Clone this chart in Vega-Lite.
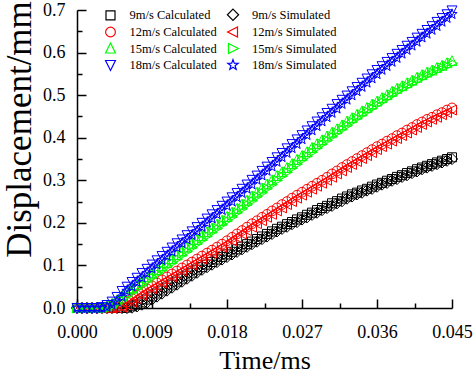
{
"$schema": "https://vega.github.io/schema/vega-lite/v6.json",
"width": 375, "height": 298,
"autosize": {"type": "none"},
"padding": {"left": 77, "top": 10, "right": 22, "bottom": 67},
"background": "white",
"config": {"view": {"stroke": null}, "font": "Liberation Serif"},
"data": {"values": [
{"s":"9C","t":0,"v":0},{"s":"9C","t":0.0006,"v":0},{"s":"9C","t":0.0012,"v":0},{"s":"9C","t":0.0018,"v":0},{"s":"9C","t":0.0024,"v":0},{"s":"9C","t":0.003,"v":0},{"s":"9C","t":0.0036,"v":0},{"s":"9C","t":0.0042,"v":0},{"s":"9C","t":0.0048,"v":0},{"s":"9C","t":0.0054,"v":0},{"s":"9C","t":0.006,"v":0.001},{"s":"9C","t":0.0066,"v":0.004},{"s":"9C","t":0.0072,"v":0.008},{"s":"9C","t":0.0078,"v":0.013},{"s":"9C","t":0.0084,"v":0.020},{"s":"9C","t":0.009,"v":0.027},{"s":"9C","t":0.0096,"v":0.034},{"s":"9C","t":0.0102,"v":0.041},{"s":"9C","t":0.0108,"v":0.048},{"s":"9C","t":0.0114,"v":0.055},{"s":"9C","t":0.012,"v":0.062},{"s":"9C","t":0.0126,"v":0.069},{"s":"9C","t":0.0132,"v":0.076},{"s":"9C","t":0.0138,"v":0.083},{"s":"9C","t":0.0144,"v":0.090},{"s":"9C","t":0.015,"v":0.096},{"s":"9C","t":0.0156,"v":0.102},{"s":"9C","t":0.0162,"v":0.108},{"s":"9C","t":0.0168,"v":0.114},{"s":"9C","t":0.0174,"v":0.120},{"s":"9C","t":0.018,"v":0.126},{"s":"9C","t":0.0186,"v":0.132},{"s":"9C","t":0.0192,"v":0.138},{"s":"9C","t":0.0198,"v":0.144},{"s":"9C","t":0.0204,"v":0.150},{"s":"9C","t":0.021,"v":0.156},{"s":"9C","t":0.0216,"v":0.162},{"s":"9C","t":0.0222,"v":0.168},{"s":"9C","t":0.0228,"v":0.174},{"s":"9C","t":0.0234,"v":0.180},{"s":"9C","t":0.024,"v":0.186},{"s":"9C","t":0.0246,"v":0.191},{"s":"9C","t":0.0252,"v":0.197},{"s":"9C","t":0.0258,"v":0.202},{"s":"9C","t":0.0264,"v":0.208},{"s":"9C","t":0.027,"v":0.213},{"s":"9C","t":0.0276,"v":0.219},{"s":"9C","t":0.0282,"v":0.224},{"s":"9C","t":0.0288,"v":0.230},{"s":"9C","t":0.0294,"v":0.235},{"s":"9C","t":0.03,"v":0.240},{"s":"9C","t":0.0306,"v":0.246},{"s":"9C","t":0.0312,"v":0.251},{"s":"9C","t":0.0318,"v":0.257},{"s":"9C","t":0.0324,"v":0.262},{"s":"9C","t":0.033,"v":0.267},{"s":"9C","t":0.0336,"v":0.271},{"s":"9C","t":0.0342,"v":0.276},{"s":"9C","t":0.0348,"v":0.280},{"s":"9C","t":0.0354,"v":0.285},{"s":"9C","t":0.036,"v":0.290},{"s":"9C","t":0.0366,"v":0.294},{"s":"9C","t":0.0372,"v":0.299},{"s":"9C","t":0.0378,"v":0.303},{"s":"9C","t":0.0384,"v":0.308},{"s":"9C","t":0.039,"v":0.312},{"s":"9C","t":0.0396,"v":0.317},{"s":"9C","t":0.0402,"v":0.321},{"s":"9C","t":0.0408,"v":0.326},{"s":"9C","t":0.0414,"v":0.330},{"s":"9C","t":0.042,"v":0.334},{"s":"9C","t":0.0426,"v":0.338},{"s":"9C","t":0.0432,"v":0.342},{"s":"9C","t":0.0438,"v":0.346},{"s":"9C","t":0.0444,"v":0.350},{"s":"9C","t":0.045,"v":0.354},
{"s":"9S","t":0,"v":0},{"s":"9S","t":0.0006,"v":0},{"s":"9S","t":0.0012,"v":0},{"s":"9S","t":0.0018,"v":0},{"s":"9S","t":0.0024,"v":0},{"s":"9S","t":0.003,"v":0},{"s":"9S","t":0.0036,"v":0},{"s":"9S","t":0.0042,"v":0},{"s":"9S","t":0.0048,"v":0},{"s":"9S","t":0.0054,"v":0},{"s":"9S","t":0.006,"v":0},{"s":"9S","t":0.0066,"v":0.001},{"s":"9S","t":0.0072,"v":0.004},{"s":"9S","t":0.0078,"v":0.008},{"s":"9S","t":0.0084,"v":0.013},{"s":"9S","t":0.009,"v":0.020},{"s":"9S","t":0.0096,"v":0.027},{"s":"9S","t":0.0102,"v":0.034},{"s":"9S","t":0.0108,"v":0.041},{"s":"9S","t":0.0114,"v":0.048},{"s":"9S","t":0.012,"v":0.055},{"s":"9S","t":0.0126,"v":0.062},{"s":"9S","t":0.0132,"v":0.069},{"s":"9S","t":0.0138,"v":0.076},{"s":"9S","t":0.0144,"v":0.083},{"s":"9S","t":0.015,"v":0.090},{"s":"9S","t":0.0156,"v":0.096},{"s":"9S","t":0.0162,"v":0.102},{"s":"9S","t":0.0168,"v":0.108},{"s":"9S","t":0.0174,"v":0.114},{"s":"9S","t":0.018,"v":0.120},{"s":"9S","t":0.0186,"v":0.126},{"s":"9S","t":0.0192,"v":0.132},{"s":"9S","t":0.0198,"v":0.138},{"s":"9S","t":0.0204,"v":0.144},{"s":"9S","t":0.021,"v":0.150},{"s":"9S","t":0.0216,"v":0.156},{"s":"9S","t":0.0222,"v":0.162},{"s":"9S","t":0.0228,"v":0.168},{"s":"9S","t":0.0234,"v":0.174},{"s":"9S","t":0.024,"v":0.180},{"s":"9S","t":0.0246,"v":0.186},{"s":"9S","t":0.0252,"v":0.191},{"s":"9S","t":0.0258,"v":0.197},{"s":"9S","t":0.0264,"v":0.202},{"s":"9S","t":0.027,"v":0.208},{"s":"9S","t":0.0276,"v":0.213},{"s":"9S","t":0.0282,"v":0.219},{"s":"9S","t":0.0288,"v":0.224},{"s":"9S","t":0.0294,"v":0.230},{"s":"9S","t":0.03,"v":0.235},{"s":"9S","t":0.0306,"v":0.240},{"s":"9S","t":0.0312,"v":0.246},{"s":"9S","t":0.0318,"v":0.251},{"s":"9S","t":0.0324,"v":0.257},{"s":"9S","t":0.033,"v":0.262},{"s":"9S","t":0.0336,"v":0.267},{"s":"9S","t":0.0342,"v":0.271},{"s":"9S","t":0.0348,"v":0.276},{"s":"9S","t":0.0354,"v":0.280},{"s":"9S","t":0.036,"v":0.285},{"s":"9S","t":0.0366,"v":0.290},{"s":"9S","t":0.0372,"v":0.294},{"s":"9S","t":0.0378,"v":0.299},{"s":"9S","t":0.0384,"v":0.303},{"s":"9S","t":0.039,"v":0.308},{"s":"9S","t":0.0396,"v":0.312},{"s":"9S","t":0.0402,"v":0.317},{"s":"9S","t":0.0408,"v":0.321},{"s":"9S","t":0.0414,"v":0.326},{"s":"9S","t":0.042,"v":0.330},{"s":"9S","t":0.0426,"v":0.334},{"s":"9S","t":0.0432,"v":0.338},{"s":"9S","t":0.0438,"v":0.342},{"s":"9S","t":0.0444,"v":0.346},{"s":"9S","t":0.045,"v":0.350},
{"s":"12C","t":0,"v":0},{"s":"12C","t":0.0006,"v":0},{"s":"12C","t":0.0012,"v":0},{"s":"12C","t":0.0018,"v":0},{"s":"12C","t":0.0024,"v":0},{"s":"12C","t":0.003,"v":0},{"s":"12C","t":0.0036,"v":0},{"s":"12C","t":0.0042,"v":0},{"s":"12C","t":0.0048,"v":0.002},{"s":"12C","t":0.0054,"v":0.007},{"s":"12C","t":0.006,"v":0.014},{"s":"12C","t":0.0066,"v":0.022},{"s":"12C","t":0.0072,"v":0.030},{"s":"12C","t":0.0078,"v":0.038},{"s":"12C","t":0.0084,"v":0.045},{"s":"12C","t":0.009,"v":0.052},{"s":"12C","t":0.0096,"v":0.059},{"s":"12C","t":0.0102,"v":0.066},{"s":"12C","t":0.0108,"v":0.073},{"s":"12C","t":0.0114,"v":0.080},{"s":"12C","t":0.012,"v":0.087},{"s":"12C","t":0.0126,"v":0.094},{"s":"12C","t":0.0132,"v":0.101},{"s":"12C","t":0.0138,"v":0.108},{"s":"12C","t":0.0144,"v":0.115},{"s":"12C","t":0.015,"v":0.122},{"s":"12C","t":0.0156,"v":0.129},{"s":"12C","t":0.0162,"v":0.136},{"s":"12C","t":0.0168,"v":0.143},{"s":"12C","t":0.0174,"v":0.150},{"s":"12C","t":0.018,"v":0.158},{"s":"12C","t":0.0186,"v":0.166},{"s":"12C","t":0.0192,"v":0.174},{"s":"12C","t":0.0198,"v":0.182},{"s":"12C","t":0.0204,"v":0.190},{"s":"12C","t":0.021,"v":0.198},{"s":"12C","t":0.0216,"v":0.205},{"s":"12C","t":0.0222,"v":0.213},{"s":"12C","t":0.0228,"v":0.220},{"s":"12C","t":0.0234,"v":0.228},{"s":"12C","t":0.024,"v":0.235},{"s":"12C","t":0.0246,"v":0.243},{"s":"12C","t":0.0252,"v":0.250},{"s":"12C","t":0.0258,"v":0.258},{"s":"12C","t":0.0264,"v":0.265},{"s":"12C","t":0.027,"v":0.272},{"s":"12C","t":0.0276,"v":0.279},{"s":"12C","t":0.0282,"v":0.286},{"s":"12C","t":0.0288,"v":0.293},{"s":"12C","t":0.0294,"v":0.300},{"s":"12C","t":0.03,"v":0.307},{"s":"12C","t":0.0306,"v":0.315},{"s":"12C","t":0.0312,"v":0.322},{"s":"12C","t":0.0318,"v":0.330},{"s":"12C","t":0.0324,"v":0.337},{"s":"12C","t":0.033,"v":0.344},{"s":"12C","t":0.0336,"v":0.351},{"s":"12C","t":0.0342,"v":0.358},{"s":"12C","t":0.0348,"v":0.365},{"s":"12C","t":0.0354,"v":0.372},{"s":"12C","t":0.036,"v":0.379},{"s":"12C","t":0.0366,"v":0.385},{"s":"12C","t":0.0372,"v":0.392},{"s":"12C","t":0.0378,"v":0.398},{"s":"12C","t":0.0384,"v":0.405},{"s":"12C","t":0.039,"v":0.411},{"s":"12C","t":0.0396,"v":0.418},{"s":"12C","t":0.0402,"v":0.424},{"s":"12C","t":0.0408,"v":0.431},{"s":"12C","t":0.0414,"v":0.437},{"s":"12C","t":0.042,"v":0.443},{"s":"12C","t":0.0426,"v":0.448},{"s":"12C","t":0.0432,"v":0.454},{"s":"12C","t":0.0438,"v":0.459},{"s":"12C","t":0.0444,"v":0.465},{"s":"12C","t":0.045,"v":0.470},
{"s":"12S","t":0,"v":0},{"s":"12S","t":0.0006,"v":0},{"s":"12S","t":0.0012,"v":0},{"s":"12S","t":0.0018,"v":0},{"s":"12S","t":0.0024,"v":0},{"s":"12S","t":0.003,"v":0},{"s":"12S","t":0.0036,"v":0},{"s":"12S","t":0.0042,"v":0},{"s":"12S","t":0.0048,"v":0},{"s":"12S","t":0.0054,"v":0.002},{"s":"12S","t":0.006,"v":0.007},{"s":"12S","t":0.0066,"v":0.014},{"s":"12S","t":0.0072,"v":0.022},{"s":"12S","t":0.0078,"v":0.030},{"s":"12S","t":0.0084,"v":0.038},{"s":"12S","t":0.009,"v":0.045},{"s":"12S","t":0.0096,"v":0.052},{"s":"12S","t":0.0102,"v":0.059},{"s":"12S","t":0.0108,"v":0.066},{"s":"12S","t":0.0114,"v":0.073},{"s":"12S","t":0.012,"v":0.080},{"s":"12S","t":0.0126,"v":0.087},{"s":"12S","t":0.0132,"v":0.094},{"s":"12S","t":0.0138,"v":0.101},{"s":"12S","t":0.0144,"v":0.108},{"s":"12S","t":0.015,"v":0.115},{"s":"12S","t":0.0156,"v":0.122},{"s":"12S","t":0.0162,"v":0.129},{"s":"12S","t":0.0168,"v":0.136},{"s":"12S","t":0.0174,"v":0.143},{"s":"12S","t":0.018,"v":0.150},{"s":"12S","t":0.0186,"v":0.158},{"s":"12S","t":0.0192,"v":0.166},{"s":"12S","t":0.0198,"v":0.174},{"s":"12S","t":0.0204,"v":0.182},{"s":"12S","t":0.021,"v":0.190},{"s":"12S","t":0.0216,"v":0.198},{"s":"12S","t":0.0222,"v":0.205},{"s":"12S","t":0.0228,"v":0.213},{"s":"12S","t":0.0234,"v":0.220},{"s":"12S","t":0.024,"v":0.228},{"s":"12S","t":0.0246,"v":0.235},{"s":"12S","t":0.0252,"v":0.243},{"s":"12S","t":0.0258,"v":0.250},{"s":"12S","t":0.0264,"v":0.258},{"s":"12S","t":0.027,"v":0.265},{"s":"12S","t":0.0276,"v":0.272},{"s":"12S","t":0.0282,"v":0.279},{"s":"12S","t":0.0288,"v":0.286},{"s":"12S","t":0.0294,"v":0.293},{"s":"12S","t":0.03,"v":0.300},{"s":"12S","t":0.0306,"v":0.307},{"s":"12S","t":0.0312,"v":0.315},{"s":"12S","t":0.0318,"v":0.322},{"s":"12S","t":0.0324,"v":0.330},{"s":"12S","t":0.033,"v":0.337},{"s":"12S","t":0.0336,"v":0.344},{"s":"12S","t":0.0342,"v":0.351},{"s":"12S","t":0.0348,"v":0.358},{"s":"12S","t":0.0354,"v":0.365},{"s":"12S","t":0.036,"v":0.372},{"s":"12S","t":0.0366,"v":0.379},{"s":"12S","t":0.0372,"v":0.385},{"s":"12S","t":0.0378,"v":0.392},{"s":"12S","t":0.0384,"v":0.398},{"s":"12S","t":0.039,"v":0.405},{"s":"12S","t":0.0396,"v":0.411},{"s":"12S","t":0.0402,"v":0.418},{"s":"12S","t":0.0408,"v":0.424},{"s":"12S","t":0.0414,"v":0.431},{"s":"12S","t":0.042,"v":0.437},{"s":"12S","t":0.0426,"v":0.443},{"s":"12S","t":0.0432,"v":0.448},{"s":"12S","t":0.0438,"v":0.454},{"s":"12S","t":0.0444,"v":0.459},{"s":"12S","t":0.045,"v":0.465},
{"s":"15C","t":0,"v":0},{"s":"15C","t":0.0006,"v":0},{"s":"15C","t":0.0012,"v":0},{"s":"15C","t":0.0018,"v":0},{"s":"15C","t":0.0024,"v":0},{"s":"15C","t":0.003,"v":0.001},{"s":"15C","t":0.0036,"v":0.004},{"s":"15C","t":0.0042,"v":0.010},{"s":"15C","t":0.0048,"v":0.018},{"s":"15C","t":0.0054,"v":0.028},{"s":"15C","t":0.006,"v":0.037},{"s":"15C","t":0.0066,"v":0.046},{"s":"15C","t":0.0072,"v":0.054},{"s":"15C","t":0.0078,"v":0.063},{"s":"15C","t":0.0084,"v":0.072},{"s":"15C","t":0.009,"v":0.081},{"s":"15C","t":0.0096,"v":0.089},{"s":"15C","t":0.0102,"v":0.098},{"s":"15C","t":0.0108,"v":0.106},{"s":"15C","t":0.0114,"v":0.115},{"s":"15C","t":0.012,"v":0.124},{"s":"15C","t":0.0126,"v":0.133},{"s":"15C","t":0.0132,"v":0.142},{"s":"15C","t":0.0138,"v":0.151},{"s":"15C","t":0.0144,"v":0.160},{"s":"15C","t":0.015,"v":0.169},{"s":"15C","t":0.0156,"v":0.178},{"s":"15C","t":0.0162,"v":0.187},{"s":"15C","t":0.0168,"v":0.196},{"s":"15C","t":0.0174,"v":0.205},{"s":"15C","t":0.018,"v":0.214},{"s":"15C","t":0.0186,"v":0.224},{"s":"15C","t":0.0192,"v":0.233},{"s":"15C","t":0.0198,"v":0.243},{"s":"15C","t":0.0204,"v":0.252},{"s":"15C","t":0.021,"v":0.262},{"s":"15C","t":0.0216,"v":0.271},{"s":"15C","t":0.0222,"v":0.281},{"s":"15C","t":0.0228,"v":0.290},{"s":"15C","t":0.0234,"v":0.300},{"s":"15C","t":0.024,"v":0.310},{"s":"15C","t":0.0246,"v":0.319},{"s":"15C","t":0.0252,"v":0.329},{"s":"15C","t":0.0258,"v":0.338},{"s":"15C","t":0.0264,"v":0.348},{"s":"15C","t":0.027,"v":0.357},{"s":"15C","t":0.0276,"v":0.366},{"s":"15C","t":0.0282,"v":0.376},{"s":"15C","t":0.0288,"v":0.385},{"s":"15C","t":0.0294,"v":0.394},{"s":"15C","t":0.03,"v":0.403},{"s":"15C","t":0.0306,"v":0.412},{"s":"15C","t":0.0312,"v":0.420},{"s":"15C","t":0.0318,"v":0.429},{"s":"15C","t":0.0324,"v":0.438},{"s":"15C","t":0.033,"v":0.446},{"s":"15C","t":0.0336,"v":0.454},{"s":"15C","t":0.0342,"v":0.462},{"s":"15C","t":0.0348,"v":0.470},{"s":"15C","t":0.0354,"v":0.478},{"s":"15C","t":0.036,"v":0.485},{"s":"15C","t":0.0366,"v":0.493},{"s":"15C","t":0.0372,"v":0.500},{"s":"15C","t":0.0378,"v":0.508},{"s":"15C","t":0.0384,"v":0.515},{"s":"15C","t":0.039,"v":0.521},{"s":"15C","t":0.0396,"v":0.528},{"s":"15C","t":0.0402,"v":0.534},{"s":"15C","t":0.0408,"v":0.541},{"s":"15C","t":0.0414,"v":0.547},{"s":"15C","t":0.042,"v":0.553},{"s":"15C","t":0.0426,"v":0.558},{"s":"15C","t":0.0432,"v":0.564},{"s":"15C","t":0.0438,"v":0.569},{"s":"15C","t":0.0444,"v":0.575},{"s":"15C","t":0.045,"v":0.580},
{"s":"15S","t":0,"v":0},{"s":"15S","t":0.0006,"v":0},{"s":"15S","t":0.0012,"v":0},{"s":"15S","t":0.0018,"v":0},{"s":"15S","t":0.0024,"v":0},{"s":"15S","t":0.003,"v":0},{"s":"15S","t":0.0036,"v":0.001},{"s":"15S","t":0.0042,"v":0.004},{"s":"15S","t":0.0048,"v":0.010},{"s":"15S","t":0.0054,"v":0.018},{"s":"15S","t":0.006,"v":0.028},{"s":"15S","t":0.0066,"v":0.037},{"s":"15S","t":0.0072,"v":0.046},{"s":"15S","t":0.0078,"v":0.054},{"s":"15S","t":0.0084,"v":0.063},{"s":"15S","t":0.009,"v":0.072},{"s":"15S","t":0.0096,"v":0.081},{"s":"15S","t":0.0102,"v":0.089},{"s":"15S","t":0.0108,"v":0.098},{"s":"15S","t":0.0114,"v":0.106},{"s":"15S","t":0.012,"v":0.115},{"s":"15S","t":0.0126,"v":0.124},{"s":"15S","t":0.0132,"v":0.133},{"s":"15S","t":0.0138,"v":0.142},{"s":"15S","t":0.0144,"v":0.151},{"s":"15S","t":0.015,"v":0.160},{"s":"15S","t":0.0156,"v":0.169},{"s":"15S","t":0.0162,"v":0.178},{"s":"15S","t":0.0168,"v":0.187},{"s":"15S","t":0.0174,"v":0.196},{"s":"15S","t":0.018,"v":0.205},{"s":"15S","t":0.0186,"v":0.214},{"s":"15S","t":0.0192,"v":0.224},{"s":"15S","t":0.0198,"v":0.233},{"s":"15S","t":0.0204,"v":0.243},{"s":"15S","t":0.021,"v":0.252},{"s":"15S","t":0.0216,"v":0.262},{"s":"15S","t":0.0222,"v":0.271},{"s":"15S","t":0.0228,"v":0.281},{"s":"15S","t":0.0234,"v":0.290},{"s":"15S","t":0.024,"v":0.300},{"s":"15S","t":0.0246,"v":0.310},{"s":"15S","t":0.0252,"v":0.319},{"s":"15S","t":0.0258,"v":0.329},{"s":"15S","t":0.0264,"v":0.338},{"s":"15S","t":0.027,"v":0.348},{"s":"15S","t":0.0276,"v":0.357},{"s":"15S","t":0.0282,"v":0.366},{"s":"15S","t":0.0288,"v":0.376},{"s":"15S","t":0.0294,"v":0.385},{"s":"15S","t":0.03,"v":0.394},{"s":"15S","t":0.0306,"v":0.403},{"s":"15S","t":0.0312,"v":0.412},{"s":"15S","t":0.0318,"v":0.420},{"s":"15S","t":0.0324,"v":0.429},{"s":"15S","t":0.033,"v":0.438},{"s":"15S","t":0.0336,"v":0.446},{"s":"15S","t":0.0342,"v":0.454},{"s":"15S","t":0.0348,"v":0.462},{"s":"15S","t":0.0354,"v":0.470},{"s":"15S","t":0.036,"v":0.478},{"s":"15S","t":0.0366,"v":0.485},{"s":"15S","t":0.0372,"v":0.493},{"s":"15S","t":0.0378,"v":0.500},{"s":"15S","t":0.0384,"v":0.508},{"s":"15S","t":0.039,"v":0.515},{"s":"15S","t":0.0396,"v":0.521},{"s":"15S","t":0.0402,"v":0.528},{"s":"15S","t":0.0408,"v":0.534},{"s":"15S","t":0.0414,"v":0.541},{"s":"15S","t":0.042,"v":0.547},{"s":"15S","t":0.0426,"v":0.553},{"s":"15S","t":0.0432,"v":0.558},{"s":"15S","t":0.0438,"v":0.564},{"s":"15S","t":0.0444,"v":0.569},{"s":"15S","t":0.045,"v":0.575},
{"s":"18C","t":0,"v":0},{"s":"18C","t":0.0006,"v":0},{"s":"18C","t":0.0012,"v":0},{"s":"18C","t":0.0018,"v":0},{"s":"18C","t":0.0024,"v":0},{"s":"18C","t":0.003,"v":0.002},{"s":"18C","t":0.0036,"v":0.007},{"s":"18C","t":0.0042,"v":0.015},{"s":"18C","t":0.0048,"v":0.026},{"s":"18C","t":0.0054,"v":0.040},{"s":"18C","t":0.006,"v":0.050},{"s":"18C","t":0.0066,"v":0.061},{"s":"18C","t":0.0072,"v":0.071},{"s":"18C","t":0.0078,"v":0.082},{"s":"18C","t":0.0084,"v":0.092},{"s":"18C","t":0.009,"v":0.102},{"s":"18C","t":0.0096,"v":0.112},{"s":"18C","t":0.0102,"v":0.122},{"s":"18C","t":0.0108,"v":0.132},{"s":"18C","t":0.0114,"v":0.142},{"s":"18C","t":0.012,"v":0.152},{"s":"18C","t":0.0126,"v":0.161},{"s":"18C","t":0.0132,"v":0.171},{"s":"18C","t":0.0138,"v":0.180},{"s":"18C","t":0.0144,"v":0.190},{"s":"18C","t":0.015,"v":0.200},{"s":"18C","t":0.0156,"v":0.210},{"s":"18C","t":0.0162,"v":0.220},{"s":"18C","t":0.0168,"v":0.230},{"s":"18C","t":0.0174,"v":0.240},{"s":"18C","t":0.018,"v":0.250},{"s":"18C","t":0.0186,"v":0.260},{"s":"18C","t":0.0192,"v":0.270},{"s":"18C","t":0.0198,"v":0.280},{"s":"18C","t":0.0204,"v":0.290},{"s":"18C","t":0.021,"v":0.301},{"s":"18C","t":0.0216,"v":0.311},{"s":"18C","t":0.0222,"v":0.322},{"s":"18C","t":0.0228,"v":0.332},{"s":"18C","t":0.0234,"v":0.343},{"s":"18C","t":0.024,"v":0.354},{"s":"18C","t":0.0246,"v":0.364},{"s":"18C","t":0.0252,"v":0.375},{"s":"18C","t":0.0258,"v":0.385},{"s":"18C","t":0.0264,"v":0.396},{"s":"18C","t":0.027,"v":0.406},{"s":"18C","t":0.0276,"v":0.417},{"s":"18C","t":0.0282,"v":0.427},{"s":"18C","t":0.0288,"v":0.438},{"s":"18C","t":0.0294,"v":0.448},{"s":"18C","t":0.03,"v":0.458},{"s":"18C","t":0.0306,"v":0.468},{"s":"18C","t":0.0312,"v":0.479},{"s":"18C","t":0.0318,"v":0.489},{"s":"18C","t":0.0324,"v":0.499},{"s":"18C","t":0.033,"v":0.509},{"s":"18C","t":0.0336,"v":0.519},{"s":"18C","t":0.0342,"v":0.529},{"s":"18C","t":0.0348,"v":0.539},{"s":"18C","t":0.0354,"v":0.549},{"s":"18C","t":0.036,"v":0.559},{"s":"18C","t":0.0366,"v":0.568},{"s":"18C","t":0.0372,"v":0.578},{"s":"18C","t":0.0378,"v":0.587},{"s":"18C","t":0.0384,"v":0.597},{"s":"18C","t":0.039,"v":0.606},{"s":"18C","t":0.0396,"v":0.616},{"s":"18C","t":0.0402,"v":0.625},{"s":"18C","t":0.0408,"v":0.635},{"s":"18C","t":0.0414,"v":0.644},{"s":"18C","t":0.042,"v":0.653},{"s":"18C","t":0.0426,"v":0.662},{"s":"18C","t":0.0432,"v":0.672},{"s":"18C","t":0.0438,"v":0.681},{"s":"18C","t":0.0444,"v":0.690},{"s":"18C","t":0.045,"v":0.699},
{"s":"18S","t":0,"v":0},{"s":"18S","t":0.0006,"v":0},{"s":"18S","t":0.0012,"v":0},{"s":"18S","t":0.0018,"v":0},{"s":"18S","t":0.0024,"v":0},{"s":"18S","t":0.003,"v":0},{"s":"18S","t":0.0036,"v":0.002},{"s":"18S","t":0.0042,"v":0.007},{"s":"18S","t":0.0048,"v":0.015},{"s":"18S","t":0.0054,"v":0.026},{"s":"18S","t":0.006,"v":0.040},{"s":"18S","t":0.0066,"v":0.050},{"s":"18S","t":0.0072,"v":0.061},{"s":"18S","t":0.0078,"v":0.071},{"s":"18S","t":0.0084,"v":0.082},{"s":"18S","t":0.009,"v":0.092},{"s":"18S","t":0.0096,"v":0.102},{"s":"18S","t":0.0102,"v":0.112},{"s":"18S","t":0.0108,"v":0.122},{"s":"18S","t":0.0114,"v":0.132},{"s":"18S","t":0.012,"v":0.142},{"s":"18S","t":0.0126,"v":0.152},{"s":"18S","t":0.0132,"v":0.161},{"s":"18S","t":0.0138,"v":0.171},{"s":"18S","t":0.0144,"v":0.180},{"s":"18S","t":0.015,"v":0.190},{"s":"18S","t":0.0156,"v":0.200},{"s":"18S","t":0.0162,"v":0.210},{"s":"18S","t":0.0168,"v":0.220},{"s":"18S","t":0.0174,"v":0.230},{"s":"18S","t":0.018,"v":0.240},{"s":"18S","t":0.0186,"v":0.250},{"s":"18S","t":0.0192,"v":0.260},{"s":"18S","t":0.0198,"v":0.270},{"s":"18S","t":0.0204,"v":0.280},{"s":"18S","t":0.021,"v":0.290},{"s":"18S","t":0.0216,"v":0.301},{"s":"18S","t":0.0222,"v":0.311},{"s":"18S","t":0.0228,"v":0.322},{"s":"18S","t":0.0234,"v":0.332},{"s":"18S","t":0.024,"v":0.343},{"s":"18S","t":0.0246,"v":0.354},{"s":"18S","t":0.0252,"v":0.364},{"s":"18S","t":0.0258,"v":0.375},{"s":"18S","t":0.0264,"v":0.385},{"s":"18S","t":0.027,"v":0.396},{"s":"18S","t":0.0276,"v":0.406},{"s":"18S","t":0.0282,"v":0.417},{"s":"18S","t":0.0288,"v":0.427},{"s":"18S","t":0.0294,"v":0.438},{"s":"18S","t":0.03,"v":0.448},{"s":"18S","t":0.0306,"v":0.458},{"s":"18S","t":0.0312,"v":0.468},{"s":"18S","t":0.0318,"v":0.479},{"s":"18S","t":0.0324,"v":0.489},{"s":"18S","t":0.033,"v":0.499},{"s":"18S","t":0.0336,"v":0.509},{"s":"18S","t":0.0342,"v":0.519},{"s":"18S","t":0.0348,"v":0.529},{"s":"18S","t":0.0354,"v":0.539},{"s":"18S","t":0.036,"v":0.549},{"s":"18S","t":0.0366,"v":0.559},{"s":"18S","t":0.0372,"v":0.568},{"s":"18S","t":0.0378,"v":0.578},{"s":"18S","t":0.0384,"v":0.587},{"s":"18S","t":0.039,"v":0.597},{"s":"18S","t":0.0396,"v":0.606},{"s":"18S","t":0.0402,"v":0.616},{"s":"18S","t":0.0408,"v":0.625},{"s":"18S","t":0.0414,"v":0.635},{"s":"18S","t":0.042,"v":0.644},{"s":"18S","t":0.0426,"v":0.653},{"s":"18S","t":0.0432,"v":0.662},{"s":"18S","t":0.0438,"v":0.672},{"s":"18S","t":0.0444,"v":0.681},{"s":"18S","t":0.045,"v":0.690}
]},
"encoding": {
  "x": {"field": "t", "type": "quantitative",
    "scale": {"domain": [0, 0.045], "nice": false, "zero": false},
    "axis": {"title": "Time/ms", "values": [0,0.0045,0.009,0.0135,0.018,0.0225,0.027,0.0315,0.036,0.0405,0.045],
      "labelExpr": "abs(datum.value/0.009 - round(datum.value/0.009)) < 0.01 ? format(datum.value, '.3f') : ''",
      "labelFont": "Liberation Serif", "labelFontSize": 18, "labelColor": "black", "labelFlush": false, "labelOverlap": false, "labelPadding": 24,
      "tickSize": {"condition": {"test": "abs(datum.value/0.009 - round(datum.value/0.009)) < 0.01", "value": -9}, "value": -5},
      "tickColor": "black", "tickWidth": 1.5, "domainColor": "black", "domainWidth": 1.5, "grid": false,
      "titleFont": "Liberation Serif", "titleFontSize": 26, "titleFontWeight": "normal", "titleColor": "black",
      "titleBaseline": "alphabetic", "titleY": 60}},
  "y": {"field": "v", "type": "quantitative",
    "scale": {"domain": [0, 0.7], "nice": false},
    "axis": {"title": "Displacement/mm", "values": [0,0.05,0.1,0.15,0.2,0.25,0.3,0.35,0.4,0.45,0.5,0.55,0.6,0.65,0.7],
      "labelExpr": "abs(datum.value*10 - round(datum.value*10)) < 0.01 ? format(datum.value, '.1f') : ''",
      "labelFont": "Liberation Serif", "labelFontSize": 18, "labelColor": "black", "labelFlush": false, "labelOverlap": false, "labelPadding": 21,
      "tickSize": {"condition": {"test": "abs(datum.value*10 - round(datum.value*10)) < 0.01", "value": -9}, "value": -5},
      "tickColor": "black", "tickWidth": 1.5, "domainColor": "black", "domainWidth": 1.5, "grid": false,
      "titleFont": "Liberation Serif", "titleFontSize": 35, "titleFontWeight": "normal", "titleColor": "black",
      "titleAlign": "center", "titleBaseline": "middle", "titleX": -58, "titleY": 119}},
  "color": {"field": "s", "type": "nominal",
    "scale": {"domain": ["9C","9S","12C","12S","15C","15S","18C","18S"], "range": ["#000000","#000000","#ff0000","#ff0000","#00ff00","#00ff00","#0000ff","#0000ff"]},
    "legend": {"title": null, "orient": "none", "legendX": 25, "legendY": -4, "columns": 2, "direction": "horizontal", "columnPadding": 7.5, "rowPadding": 0.5, "padding": 0,
      "symbolSize": 225, "symbolStrokeWidth": 1.2, "symbolOpacity": 1, "labelOffset": 10.5,
      "labelFont": "Liberation Serif", "labelFontSize": 12.5, "labelColor": "black", "labelLimit": 0,
      "labelExpr": "replace(replace(datum.label, 'C', 'm/s Calculated'), 'S', 'm/s Simulated')"}}
},
"layer": [
  {"mark": {"type": "line", "strokeWidth": 1}, "encoding": {"detail": {"field": "s"}}},
  {"mark": {"type": "point", "filled": false, "strokeWidth": 1, "size": 225, "opacity": 1},
   "encoding": {"shape": {"field": "s", "type": "nominal",
     "scale": {"domain": ["9C","9S","12C","12S","15C","15S","18C","18S"],
       "range": ["M-0.6,-0.6H0.6V0.6H-0.6Z","M0,-0.75L0.75,0L0,0.75L-0.75,0Z","M-0.65,0A0.65,0.65,0,1,0,0.65,0A0.65,0.65,0,1,0,-0.65,0Z","M-0.72,0L0.6,-0.66L0.6,0.66Z","M0,-0.72L0.66,0.6L-0.66,0.6Z","M0.72,0L-0.6,-0.66L-0.6,0.66Z","M0,0.72L0.66,-0.6L-0.66,-0.6Z","M0,-0.72L0.17,-0.235L0.685,-0.222L0.276,0.09L0.423,0.583L0,0.29L-0.423,0.583L-0.276,0.09L-0.685,-0.222L-0.17,-0.235Z"]},
     "legend": null}}}
]
}
